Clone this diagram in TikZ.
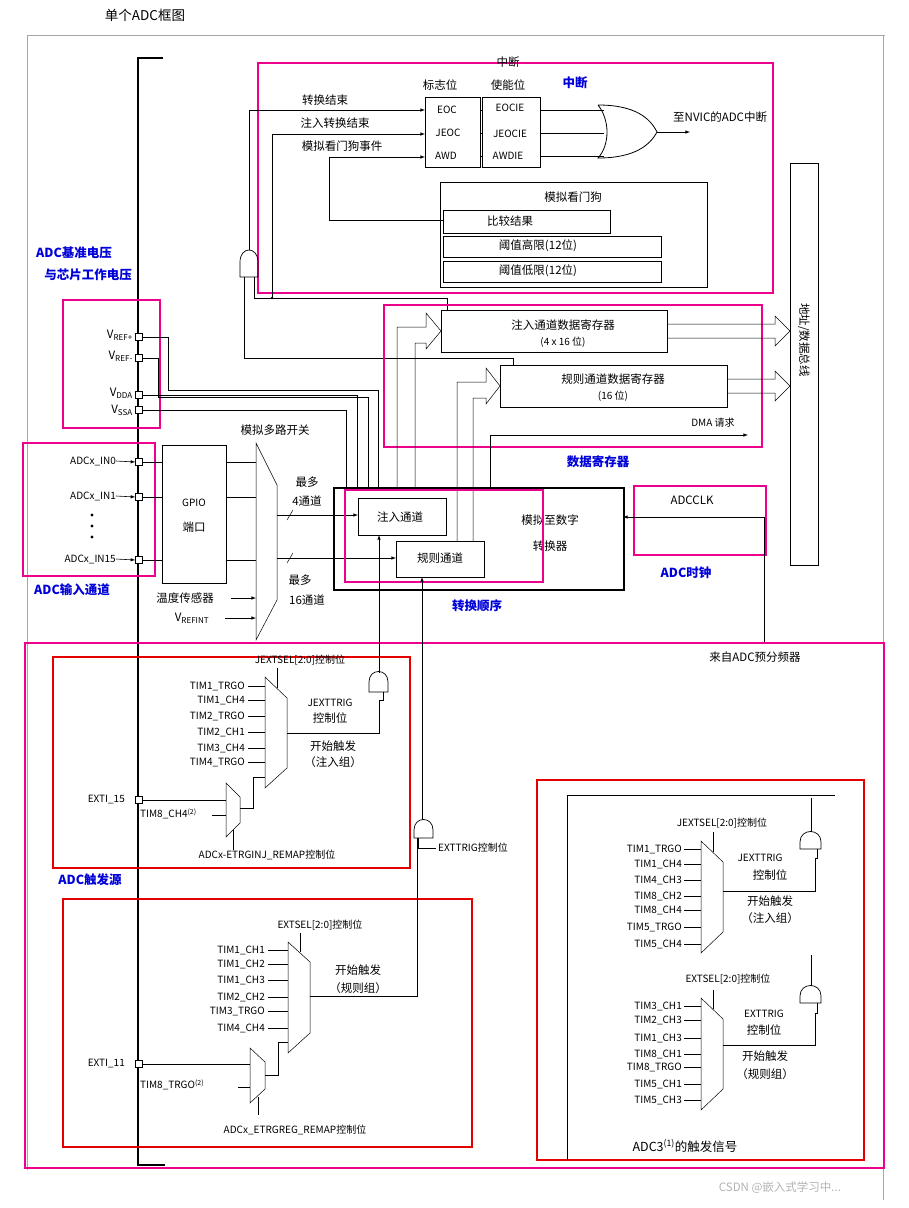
\documentclass[tikz,border=0pt]{standalone}
\usepackage{fontspec}
\setmainfont{Noto Sans CJK SC}
\begin{document}
\begin{tikzpicture}[x=1pt,y=-1pt,
  t/.style={inner sep=0pt,font=\fontsize{11.5}{12}\selectfont},
  ts/.style={inner sep=0pt,font=\fontsize{10}{11}\selectfont},
  bl/.style={inner sep=0pt,text=blue!85!black,font=\fontsize{12.5}{13}\selectfont\bfseries},
  mg/.style={draw=magenta,line width=1.6pt},
  rd/.style={draw=red!90!black,line width=1.6pt},
  bx/.style={draw,line width=1.3pt},
  pin/.style={draw,fill=white,minimum size=7pt,inner sep=0pt},
  ln/.style={line width=0.5pt},
  ar/.style={-latex,line width=0.6pt}]
\useasboundingbox (0,0) rectangle (909,1208);
% frame
\draw[gray!70,line width=0.6pt] (27,1170)--(27,35)--(885,35);
\draw[gray!70,line width=0.6pt] (883,35)--(883,1200);
\node[t,font=\fontsize{13.5}{14}\selectfont] (title) at (145,15) {单个ADC框图};
% main bus
\draw[line width=1.6pt] (163,58)--(138,58)--(138,1165)--(165,1165);
% ===== interrupt =====
\draw[mg] (258,63) rectangle (773,293);
\node[t] at (508,62) {中断};
\node[t] at (440,85) {标志位};
\node[t] at (508,85) {使能位};
\node[bl] at (575,83) {中断};
\node[bx,minimum width=55pt,minimum height=70pt,anchor=north west] (flag) at (425,97) {};
\node[bx,minimum width=58pt,minimum height=70pt,anchor=north west] (en) at (482,97) {};
\node[ts] at (447,110) {EOC};\node[ts] at (448,133) {JEOC};\node[ts] at (446,156) {AWD};
\node[ts] at (510,108) {EOCIE};\node[ts] at (510,134) {JEOCIE};\node[ts] at (508,156) {AWDIE};
\foreach \y in {110,133,156}{\draw[ln] (480,\y)--(482,\y); \draw[ln] (540,\y)--(604,\y);}
\draw[line width=0.8pt] (598,105) .. controls (610,120) and (610,145) .. (598,158)
  .. controls (635,158) and (650,145) .. (657,132) .. controls (650,118) and (635,105) .. (598,105);
\coordinate (orout) at (657,132);
\draw[ar] (orout)--(690,132);
\node[t,anchor=west] at (673,117) {至NVIC的ADC中断};
\node[t] at (325,100) {转换结束};
\node[t] at (335,123) {注入转换结束};
\node[t] at (342,146) {模拟看门狗事件};
\draw[ar] (249,250)--(249,110)--(425,110);
\draw[ar] (272,298)--(272,134)--(425,134);
\fill (272,298) circle (1.3pt);
\draw[ar] (443,220)--(329,220)--(329,157)--(425,157);
\draw[line width=0.7pt] (240,277)--(240,262) .. controls (240,246) and (258,246) .. (258,262)--(258,277)--cycle;
\draw[ln] (244,277)--(244,358)--(513,358)--(513,365);
\draw[ln] (254,277)--(254,298)--(447,298)--(447,310);
% watchdog
\node[bx,minimum width=267pt,minimum height=105pt,anchor=north west] (wd) at (440,182) {};
\node[t] at (573,197) {模拟看门狗};
\node[draw,ln,minimum width=167pt,minimum height=23pt,anchor=north west,inner sep=0pt] (cmp) at (443,210) {};
\node[t] at (510,221) {比较结果};
\node[draw,line width=0.8pt,minimum width=218pt,minimum height=21pt,anchor=north west] (hi) at (443,236) {};
\node[t] at (538,246) {阈值高限(12位)};
\node[draw,line width=0.8pt,minimum width=218pt,minimum height=21pt,anchor=north west] (lo) at (443,261) {};
\node[t] at (538,271) {阈值低限(12位)};
% ===== data registers =====
\draw[mg] (384,305) rectangle (762,447);
\node[bx,minimum width=226pt,minimum height=42pt,anchor=north west] (inj) at (441,310) {};
\node[t] at (563,325) {注入通道数据寄存器};
\node[ts] at (563,342) {(4 x 16 位)};
\node[bx,minimum width=227pt,minimum height=42pt,anchor=north west] (reg) at (500,365) {};
\node[t] at (613,379) {规则通道数据寄存器};
\node[ts] at (613,396) {(16 位)};
\draw[ln] (397,490)--(397,327)--(426,327)--(426,313)--(441,331)--(426,349)--(426,343)--(415,343)--(415,490);
\draw[ln] (457,541)--(457,382)--(486,382)--(486,368)--(500,386)--(486,404)--(486,398)--(473,398)--(473,541);
\draw[ln] (667,324)--(775,324)--(775,316)--(790,331)--(775,346)--(775,338)--(667,338);
\draw[ln] (727,379)--(775,379)--(775,371)--(790,386)--(775,401)--(775,393)--(727,393);
\node[ts] at (713,423) {DMA 请求};
\draw[ar] (490,487)--(490,435)--(748,435);
\node[bl] at (598,462) {数据寄存器};
% bus
\node[draw,ln,minimum width=28pt,minimum height=402pt,anchor=north west] (bus) at (790,163) {};
\node[t,rotate=-90] at (804,340) {地址/数据总线};
% ===== reference voltages =====
\draw[mg] (63,300) rectangle (160,428);
\node[bl] at (74,253) {ADC基准电压};
\node[bl] at (88,275) {与芯片工作电压};
\node[pin] (vrp) at (139,337) {};\node[pin] (vrm) at (139,358) {};
\node[pin] (vdda) at (139,395) {};\node[pin] (vssa) at (139,410) {};
\node[t,anchor=east] at (133,335) {V\textsubscript{REF+}};
\node[t,anchor=east] at (133,356) {V\textsubscript{REF-}};
\node[t,anchor=east] at (133,393) {V\textsubscript{DDA}};
\node[t,anchor=east] at (133,410) {V\textsubscript{SSA}};
\draw[ln] (vrp.east)--(168,337)--(168,390)--(378,390)--(378,487);
\draw[ln] (vrm.east)--(158,358)--(158,397)--(368,397)--(368,487);
\draw[ln] (vdda.east)--(357,395)--(357,487);
\draw[ln] (vssa.east)--(346,410)--(346,487);
% ===== inputs =====
\draw[mg] (23,443) rectangle (155,576);
\node[bl] at (72,590) {ADC输入通道};
\node[pin] (in0) at (139,462) {};\node[pin] (in1) at (139,497) {};\node[pin] (in15) at (139,560) {};
\node[ts,anchor=east] (l0) at (116,461) {ADCx\_IN0};
\node[ts,anchor=east] (l1) at (116,496) {ADCx\_IN1};
\node[ts,anchor=east] (l15) at (116,559) {ADCx\_IN15};
\draw[ar] (l0.east)--(in0.west);\draw[ar] (l1.east)--(in1.west);\draw[ar] (l15.east)--(in15.west);
\foreach \y in {515,526,537}\fill (92,\y) circle (1.6pt);
\node[bx,minimum width=64pt,minimum height=138pt,anchor=north west] (gpio) at (162,445) {};
\node[ts] at (194,503) {GPIO};\node[t] at (194,527) {端口};
\foreach \y in {462,497,560}{\draw[ln] (143,\y)--(162,\y);\draw[ln] (226,\y)--(256,\y);}
\draw[ln] (256,443)--(277,485)--(277,600)--(256,640)--cycle;
\node[t] at (275,430) {模拟多路开关};
\node[t] at (307,482) {最多};\node[t] at (307,501) {4通道};
\node[t] at (300,580) {最多};\node[t] at (307,600) {16通道};
\node[t] at (185,598) {温度传感器};
\draw[ar] (231,598)--(256,598);
\node[t] at (192,618) {V\textsubscript{REFINT}};
\draw[ar] (225,618)--(256,618);
% ===== ADC =====
\node[bx,line width=1.8pt,minimum width=290pt,minimum height=102pt,anchor=north west] (adc) at (333,487) {};
\node[draw,ln,minimum width=88pt,minimum height=37pt,anchor=north west] (ich) at (358,498) {};
\node[t] at (400,517) {注入通道};
\node[draw,ln,minimum width=88pt,minimum height=36pt,anchor=north west] (rch) at (396,541) {};
\node[t] at (440,558) {规则通道};
\node[t] at (550,520) {模拟至数字};
\node[t] at (550,546) {转换器};
\draw[ar] (277,515)--(358,515); \draw[ln] (287,520)--(293,510);
\draw[ar] (277,558)--(396,558); \draw[ln] (287,563)--(293,553);
\draw[mg] (345,490) rectangle (543,582);
\node[bl] at (477,606) {转换顺序};
% clock
\draw[mg] (634,486) rectangle (766,555);
\node[t] at (692,500) {ADCCLK};
\draw[ar] (764,642)--(764,517)--(623,517);
\node[bl] at (686,573) {ADC时钟};
\node[t] at (755,657) {来自ADC预分频器};
% ===== trigger area =====
\draw[mg] (25,643) rectangle (884,1168);
\draw[rd] (53,657) rectangle (410,868);
\node[ts] at (300,660) {JEXTSEL[2:0]控制位};
\draw[ln] (265,677)--(287,698)--(287,768)--(265,788)--cycle;
\draw[ln] (277,668)--(277,688);
\foreach \n/\y in {TIM1\_TRGO/686,TIM1\_CH4/700,TIM2\_TRGO/716,TIM2\_CH1/732,TIM3\_CH4/748,TIM4\_TRGO/762}
  {\node[ts,anchor=east] at (245,\y) {\n}; \draw[ln] (248,\y)--(265,\y);}
\draw[line width=0.7pt] (369,692)--(369,682) .. controls (369,668) and (388,668) .. (388,682)--(388,692)--cycle;
\draw[ar] (379,673)--(379,535);
\draw[ln] (287,733)--(379,733)--(379,700)--(383,700)--(383,692);
\node[ts] at (330,703) {JEXTTRIG};
\node[t] at (330,718) {控制位};
\node[t] at (333,746) {开始触发};
\node[t] at (333,762) {（注入组）};
\node[pin] (e15) at (139,800) {};
\node[ts,anchor=east] at (125,800) {EXTI\_15};
\node[ts,anchor=west] at (140,814) {TIM8\_CH4\textsuperscript{(2)}};
\draw[ln] (226,783)--(240,797)--(240,823)--(226,837)--cycle;
\draw[ln] (e15.east)--(226,800);
\draw[ln] (212,815)--(226,815);
\draw[ln] (240,808)--(253,808)--(253,777)--(265,777);
\draw[ln] (233,830)--(233,850);
\node[ts] at (267,855) {ADCx-ETRGINJ\_REMAP控制位};
\node[bl] at (90,880) {ADC触发源};
\draw[line width=0.7pt] (414,838)--(414,830) .. controls (414,816) and (433,816) .. (433,830)--(433,838)--cycle;
\draw[ar] (422,820)--(422,577);
\draw[ln] (418,838)--(418,848)--(436,848);
\node[ts,anchor=west] at (438,848) {EXTTRIG控制位};
% regular trigger
\draw[rd] (63,899) rectangle (472,1147);
\node[ts] at (320,925) {EXTSEL[2:0]控制位};
\draw[ln] (288,942)--(310,962)--(310,1033)--(288,1053)--cycle;
\draw[ln] (300,933)--(300,952);
\foreach \n/\y in {TIM1\_CH1/950,TIM1\_CH2/964,TIM1\_CH3/980,TIM2\_CH2/997,TIM3\_TRGO/1011,TIM4\_CH4/1028}
  {\node[ts,anchor=east] at (265,\y) {\n}; \draw[ln] (268,\y)--(288,\y);}
\draw[ln] (310,996)--(417,996)--(417,838);
\node[t] at (358,970) {开始触发};
\node[t] at (358,988) {（规则组）};
\node[pin] (e11) at (139,1064) {};
\node[ts,anchor=east] at (125,1064) {EXTI\_11};
\node[ts,anchor=west] at (140,1085) {TIM8\_TRGO\textsuperscript{(2)}};
\draw[ln] (250,1048)--(265,1062)--(265,1089)--(250,1103)--cycle;
\draw[ln] (e11.east)--(250,1064);
\draw[ln] (238,1087)--(250,1087);
\draw[ln] (265,1075)--(278,1075)--(278,1042)--(288,1042);
\draw[ln] (258,1097)--(258,1115);
\node[ts] at (295,1130) {ADCx\_ETRGREG\_REMAP控制位};
% ADC3
\draw[rd] (537,780) rectangle (864,1160);
\draw[line width=0.8pt] (567,1160)--(567,795)--(835,795);
\node[ts] at (722,823) {JEXTSEL[2:0]控制位};
\draw[ln] (701,841)--(723,862)--(723,932)--(701,953)--cycle;
\draw[ln] (713,832)--(713,852);
\foreach \n/\y in {TIM1\_TRGO/849,TIM1\_CH4/864,TIM4\_CH3/880,TIM8\_CH2/896,TIM8\_CH4/910,TIM5\_TRGO/927,TIM5\_CH4/944}
  {\node[ts,anchor=east] at (682,\y) {\n}; \draw[ln] (684,\y)--(701,\y);}
\draw[line width=0.7pt] (800,849)--(800,842) .. controls (800,828) and (821,828) .. (821,842)--(821,849)--cycle;
\draw[ln] (811,832)--(811,798);
\draw[ln] (723,891)--(815,891)--(815,858)--(817,858)--(817,849);
\node[ts] at (760,858) {JEXTTRIG};
\node[t] at (770,875) {控制位};
\node[t] at (770,901) {开始触发};
\node[t] at (770,918) {（注入组）};
\node[ts] at (728,979) {EXTSEL[2:0]控制位};
\draw[ln] (701,998)--(723,1019)--(723,1089)--(701,1110)--cycle;
\draw[ln] (713,990)--(713,1009);
\foreach \n/\y in {TIM3\_CH1/1006,TIM2\_CH3/1020,TIM1\_CH3/1038,TIM8\_CH1/1054,TIM8\_TRGO/1067,TIM5\_CH1/1084,TIM5\_CH3/1100}
  {\node[ts,anchor=east] at (682,\y) {\n}; \draw[ln] (684,\y)--(701,\y);}
\draw[line width=0.7pt] (800,1003)--(800,996) .. controls (800,982) and (821,982) .. (821,996)--(821,1003)--cycle;
\draw[ln] (811,986)--(811,955);
\draw[ln] (723,1045)--(815,1045)--(815,1013)--(817,1013)--(817,1003);
\node[ts] at (764,1014) {EXTTRIG};
\node[t] at (764,1030) {控制位};
\node[t] at (765,1056) {开始触发};
\node[t] at (765,1074) {（规则组）};
\node[t,font=\fontsize{12.5}{13}\selectfont] at (685,1146) {ADC3\textsuperscript{(1)}的触发信号};
\node[t,text=gray!60] at (780,1188) {CSDN @嵌入式学习中...};
\end{tikzpicture}
\end{document}
